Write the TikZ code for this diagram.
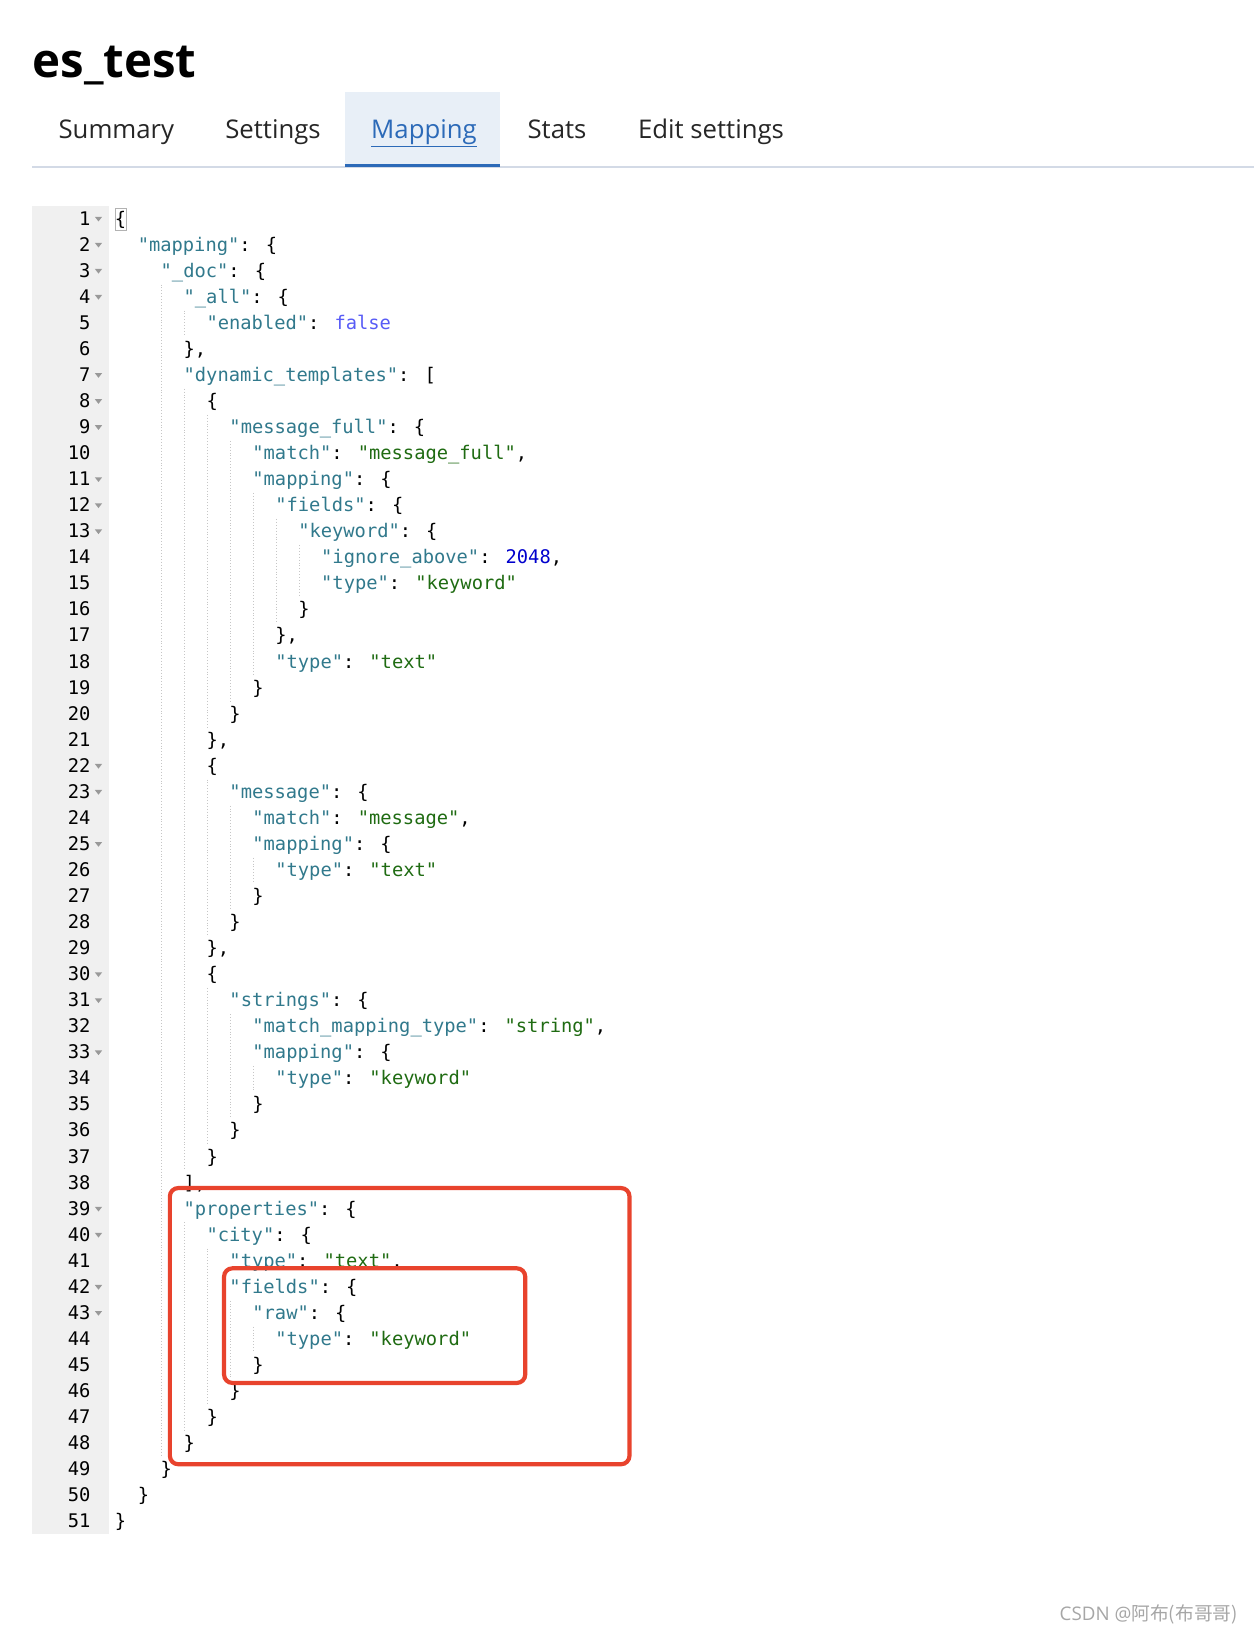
\documentclass[tikz,border=0pt]{standalone}
\usepackage{fontspec}
\setmainfont{Open Sans}
\newfontfamily\mono{DejaVu Sans Mono}
\newfontfamily\cjk{Noto Sans CJK SC}
\definecolor{keyc}{HTML}{31798C}
\definecolor{strc}{HTML}{1F6B12}
\definecolor{boolc}{HTML}{585CF6}
\definecolor{numc}{HTML}{0000CD}
\definecolor{tabbg}{HTML}{E8EFF7}
\definecolor{tabline}{HTML}{D3DAE6}
\definecolor{linkc}{HTML}{2C6AB8}
\definecolor{gutter}{HTML}{F0F0F0}
\definecolor{redbox}{HTML}{E8432D}
\newcommand\kk[1]{\textcolor{keyc}{#1}}
\newcommand\sv[1]{\textcolor{strc}{#1}}
\newcommand\CL[3]{\node[code] (c#1) at ({110+11*#2},{-(216+25*(#1-1))}) {#3};
  \node[lnum] (n#1) at (87,{-(216+25*(#1-1))}) {#1};}
\newcommand\FD[1]{\fill[gray!80] (91,{-(208+25*(#1-1))}) -- (98,{-(208+25*(#1-1))}) -- (94.5,{-(212.5+25*(#1-1))}) -- cycle;}
\newcommand\GD[3]{\draw[guide] ({110+11*#1+1},{-(198+25*(#2-1))}) -- ({110+11*#1+1},{-(198+25*#3)});}
\begin{document}
\begin{tikzpicture}[x=1pt,y=1pt,
  code/.style={anchor=base west,inner sep=0,font=\mono\fontsize{18}{20}\selectfont},
  lnum/.style={anchor=base east,inner sep=0,font=\mono\fontsize{18}{20}\selectfont},
  tab/.style={anchor=base west,inner sep=0,font=\fontsize{24.7}{30}\selectfont,text=black!85},
  guide/.style={gray!45,line width=0.8pt,dotted},
  hl/.style={redbox,line width=4pt,rounded corners=8pt}]
\useasboundingbox (0,0) rectangle (1203,-1566);
\node[anchor=base west,inner sep=0,font=\bfseries\fontsize{45.5}{52}\selectfont] (title) at (31,-74) {es\_test};
\fill[tabbg] (331,-88) rectangle (480,-160);
\draw[tabline,line width=2pt] (31,-160) -- (1203,-160);
\draw[linkc,line width=3pt] (331,-159) -- (480,-159);
\node[tab] (t1) at (56,-133) {Summary};
\node[tab] (t2) at (216,-133) {Settings};
\node[tab,text=linkc] (t3) at (356,-133) {\underline{Mapping}};
\node[tab] (t4) at (506,-133) {Stats};
\node[tab] (t5) at (612,-133) {Edit settings};
\fill[gutter] (31,-198) rectangle (105,-1472);
\draw[gray!60,line width=0.8pt] (110.5,-200) rectangle (121,-221);
\GD{4}{4}{48}\GD{6}{5}{5}\GD{6}{8}{37}\GD{8}{9}{20}\GD{10}{10}{19}\GD{12}{12}{18}
\GD{14}{13}{16}\GD{16}{14}{15}\GD{8}{23}{28}\GD{10}{24}{27}\GD{12}{26}{26}
\GD{8}{31}{36}\GD{10}{32}{35}\GD{12}{34}{34}\GD{6}{40}{47}\GD{8}{41}{46}\GD{10}{43}{45}\GD{12}{44}{44}
\CL{1}{0}{\{}
\CL{2}{2}{\kk{"mapping"}: \{}
\CL{3}{4}{\kk{"\_doc"}: \{}
\CL{4}{6}{\kk{"\_all"}: \{}
\CL{5}{8}{\kk{"enabled"}: \textcolor{boolc}{false}}
\CL{6}{6}{\},}
\CL{7}{6}{\kk{"dynamic\_templates"}: [}
\CL{8}{8}{\{}
\CL{9}{10}{\kk{"message\_full"}: \{}
\CL{10}{12}{\kk{"match"}: \sv{"message\_full"},}
\CL{11}{12}{\kk{"mapping"}: \{}
\CL{12}{14}{\kk{"fields"}: \{}
\CL{13}{16}{\kk{"keyword"}: \{}
\CL{14}{18}{\kk{"ignore\_above"}: \textcolor{numc}{2048},}
\CL{15}{18}{\kk{"type"}: \sv{"keyword"}}
\CL{16}{16}{\}}
\CL{17}{14}{\},}
\CL{18}{14}{\kk{"type"}: \sv{"text"}}
\CL{19}{12}{\}}
\CL{20}{10}{\}}
\CL{21}{8}{\},}
\CL{22}{8}{\{}
\CL{23}{10}{\kk{"message"}: \{}
\CL{24}{12}{\kk{"match"}: \sv{"message"},}
\CL{25}{12}{\kk{"mapping"}: \{}
\CL{26}{14}{\kk{"type"}: \sv{"text"}}
\CL{27}{12}{\}}
\CL{28}{10}{\}}
\CL{29}{8}{\},}
\CL{30}{8}{\{}
\CL{31}{10}{\kk{"strings"}: \{}
\CL{32}{12}{\kk{"match\_mapping\_type"}: \sv{"string"},}
\CL{33}{12}{\kk{"mapping"}: \{}
\CL{34}{14}{\kk{"type"}: \sv{"keyword"}}
\CL{35}{12}{\}}
\CL{36}{10}{\}}
\CL{37}{8}{\}}
\CL{38}{6}{],}
\CL{39}{6}{\kk{"properties"}: \{}
\CL{40}{8}{\kk{"city"}: \{}
\CL{41}{10}{\kk{"type"}: \sv{"text"},}
\CL{42}{10}{\kk{"fields"}: \{}
\CL{43}{12}{\kk{"raw"}: \{}
\CL{44}{14}{\kk{"type"}: \sv{"keyword"}}
\CL{45}{12}{\}}
\CL{46}{10}{\}}
\CL{47}{8}{\}}
\CL{48}{6}{\}}
\CL{49}{4}{\}}
\CL{50}{2}{\}}
\CL{51}{0}{\}}
\foreach \n in {1,2,3,4,7,8,9,11,12,13,22,23,25,30,31,33,39,40,42,43} {\FD{\n}}
\draw[hl] (163,-1140) rectangle (604,-1405);
\draw[hl] (215,-1217) rectangle (504,-1327);
\node[anchor=base east,inner sep=0,text=gray!70,font=\fontsize{18}{20}\selectfont] (wm) at (1188,-1555) {CSDN @{\cjk 阿布(布哥哥)}};
\end{tikzpicture}
\end{document}
